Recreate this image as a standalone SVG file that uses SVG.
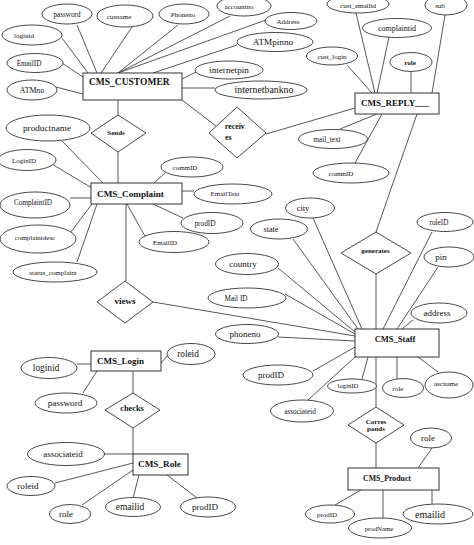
<svg xmlns="http://www.w3.org/2000/svg" width="474" height="545" viewBox="0 0 474 545">
<style>
text{font-family:"Liberation Serif","Times New Roman",serif;fill:#111;text-anchor:middle}
.e{fill:#fff;stroke:#333;stroke-width:0.9}
.r{fill:#fff;stroke:#333;stroke-width:1}
.d{fill:#fff;stroke:#333;stroke-width:0.9}
.b{font-weight:bold}
.t{text-anchor:start}
#conn line{stroke:#444;stroke-width:0.9}
</style>
<rect width="474" height="545" fill="#fff"/>
<g id="conn">
<line x1="77" y1="25" x2="97" y2="73"/>
<line x1="132" y1="27" x2="101" y2="73"/>
<line x1="178" y1="25" x2="118" y2="73"/>
<line x1="230" y1="16" x2="118" y2="73"/>
<line x1="266" y1="20" x2="118" y2="73"/>
<line x1="237" y1="45" x2="153" y2="73"/>
<line x1="196" y1="72" x2="182" y2="79"/>
<line x1="182" y1="88" x2="215" y2="88"/>
<line x1="62" y1="38" x2="88" y2="73"/>
<line x1="62" y1="63" x2="83" y2="77"/>
<line x1="56" y1="87" x2="83" y2="94"/>
<line x1="118" y1="100" x2="118" y2="115"/>
<line x1="182" y1="100" x2="216" y2="126"/>
<line x1="118" y1="152" x2="118" y2="183"/>
<line x1="62" y1="141" x2="103" y2="183"/>
<line x1="50" y1="163" x2="92" y2="188"/>
<line x1="70" y1="198" x2="91" y2="198"/>
<line x1="70" y1="233" x2="92" y2="204"/>
<line x1="77" y1="262" x2="97" y2="204"/>
<line x1="165" y1="173" x2="154" y2="183"/>
<line x1="182" y1="191" x2="194" y2="191"/>
<line x1="183" y1="218" x2="153" y2="204"/>
<line x1="146" y1="238" x2="127" y2="204"/>
<line x1="126" y1="204" x2="126" y2="281"/>
<line x1="153" y1="302" x2="355" y2="336"/>
<line x1="266" y1="134" x2="355" y2="108"/>
<line x1="356" y1="13" x2="375" y2="93"/>
<line x1="389" y1="37" x2="377" y2="93"/>
<line x1="347" y1="65" x2="372" y2="93"/>
<line x1="411" y1="72" x2="411" y2="93"/>
<line x1="445" y1="15" x2="432" y2="93"/>
<line x1="340" y1="129" x2="377" y2="114"/>
<line x1="355" y1="163" x2="382" y2="114"/>
<line x1="417" y1="114" x2="376" y2="232"/>
<line x1="376" y1="274" x2="376" y2="329"/>
<line x1="313" y1="218" x2="362" y2="329"/>
<line x1="293" y1="239" x2="358" y2="329"/>
<line x1="278" y1="268" x2="355" y2="332"/>
<line x1="285" y1="294" x2="355" y2="334"/>
<line x1="278" y1="337" x2="355" y2="341"/>
<line x1="313" y1="371" x2="355" y2="347"/>
<line x1="308" y1="400" x2="355" y2="357"/>
<line x1="362" y1="379" x2="368" y2="357"/>
<line x1="397" y1="357" x2="397" y2="379"/>
<line x1="418" y1="357" x2="438" y2="372"/>
<line x1="432" y1="232" x2="383" y2="329"/>
<line x1="438" y1="267" x2="397" y2="329"/>
<line x1="413" y1="320" x2="402" y2="329"/>
<line x1="376" y1="357" x2="376" y2="407"/>
<line x1="376" y1="443" x2="376" y2="468"/>
<line x1="432" y1="448" x2="418" y2="468"/>
<line x1="335" y1="505" x2="361" y2="490"/>
<line x1="383" y1="490" x2="383" y2="518"/>
<line x1="432" y1="490" x2="432" y2="504"/>
<line x1="77" y1="364" x2="91" y2="364"/>
<line x1="167" y1="356" x2="161" y2="363"/>
<line x1="83" y1="393" x2="97" y2="371"/>
<line x1="133" y1="371" x2="133" y2="393"/>
<line x1="133" y1="428" x2="133" y2="454"/>
<line x1="104" y1="454" x2="133" y2="454"/>
<line x1="55" y1="483" x2="133" y2="463"/>
<line x1="82" y1="505" x2="133" y2="470"/>
<line x1="133" y1="498" x2="139" y2="475"/>
<line x1="197" y1="498" x2="167" y2="475"/>
</g>

<g id="cms_customer"><rect class="r" x="83" y="73" width="99" height="27"/><text class="b t" x="89" y="85" font-size="9.5">CMS_CUSTOMER</text></g>
<g id="c_password"><ellipse class="e" cx="67" cy="14" rx="25" ry="10"/><text x="67" y="16.5" font-size="7.2">password</text></g>
<g id="c_cusname"><ellipse class="e" cx="125" cy="16" rx="28" ry="11"/><text x="119" y="18.5" font-size="7">cusname</text></g>
<g id="c_phoneno"><ellipse class="e" cx="184" cy="14" rx="25" ry="10"/><text x="183" y="16.5" font-size="7">Phoneno</text></g>
<g id="c_accountno"><ellipse class="e" cx="244" cy="6" rx="27" ry="10"/><text x="239" y="8.5" font-size="7">accountno</text></g>
<g id="c_address"><ellipse class="e" cx="291" cy="21" rx="26" ry="8.5"/><text x="288" y="23.5" font-size="7">Address</text></g>
<g id="c_atmpinno"><ellipse class="e" cx="275" cy="42" rx="38" ry="9.5"/><text x="273" y="45" font-size="9.2">ATMpinno</text></g>
<g id="c_internetpin"><ellipse class="e" cx="229" cy="70" rx="34" ry="9"/><text x="229" y="73" font-size="9.2">internetpin</text></g>
<g id="c_internetbankno"><ellipse class="e" cx="261" cy="90" rx="46" ry="9"/><text x="264" y="93" font-size="9.8">internetbankno</text></g>
<g id="c_loginid"><ellipse class="e" cx="32" cy="35" rx="30" ry="10"/><text x="24" y="37.5" font-size="7">loginid</text></g>
<g id="c_emailid"><ellipse class="e" cx="35" cy="63" rx="28" ry="9.5"/><text x="29" y="65.5" font-size="7.2">EmailID</text></g>
<g id="c_atmno"><ellipse class="e" cx="32" cy="90" rx="25" ry="10"/><text x="32" y="92.5" font-size="7.8">ATMno</text></g>

<g id="sends"><polygon class="d" points="118,115 146,133 118,152 91,133"/><text class="b" x="116" y="135" font-size="7">Sends</text></g>
<g id="receives"><polygon class="d" points="237,107 266,133 237,158 209,133"/><text class="b t" x="225" y="129" font-size="7.8">receiv</text><text class="b t" x="225" y="140" font-size="7.8">es</text></g>

<g id="cms_complaint"><rect class="r" x="91" y="183" width="91" height="21"/><text class="b t" x="97" y="196.5" font-size="9.2">CMS_Complaint</text></g>
<g id="p_productname"><ellipse class="e" cx="48" cy="128" rx="42" ry="13"/><text x="47" y="131" font-size="9.2">productname</text></g>
<g id="p_loginid"><ellipse class="e" cx="27" cy="160" rx="29" ry="10.5"/><text x="24" y="162.5" font-size="7">LoginID</text></g>
<g id="p_complaintid"><ellipse class="e" cx="35" cy="205" rx="35" ry="13"/><text x="33" y="205" font-size="7.2">ComplaintID</text></g>
<g id="p_complaintdesc"><ellipse class="e" cx="38" cy="239" rx="38" ry="14"/><text x="35" y="239.5" font-size="7">complaintdesc</text></g>
<g id="p_status"><ellipse class="e" cx="55" cy="272" rx="42" ry="10"/><text x="53" y="274.5" font-size="7">status_complaint</text></g>
<g id="p_commid"><ellipse class="e" cx="192" cy="167" rx="31" ry="10"/><text x="185" y="169.5" font-size="7">commID</text></g>
<g id="p_emailtext"><ellipse class="e" cx="233" cy="194" rx="39" ry="10"/><text x="225" y="196" font-size="7">EmailText</text></g>
<g id="p_prodid"><ellipse class="e" cx="212" cy="223" rx="31" ry="10.5"/><text x="205" y="225.5" font-size="7.3">prodID</text></g>
<g id="p_emailid"><ellipse class="e" cx="174" cy="242" rx="35" ry="10.5"/><text x="165" y="244.5" font-size="7">EmailID</text></g>

<g id="views"><polygon class="d" points="125,281 153,302 125,323 97,302"/><text class="b" x="125" y="303.5" font-size="9">views</text></g>

<g id="cms_reply"><rect class="r" x="355" y="93" width="84" height="21"/><text class="b t" x="361" y="106" font-size="9">CMS_REPLY___</text></g>
<g id="r_cust_emailid"><ellipse class="e" cx="358" cy="4" rx="31" ry="9"/><text x="358" y="7.5" font-size="7">cust_emailid</text></g>
<g id="r_complaintid"><ellipse class="e" cx="397" cy="28" rx="34.5" ry="9.5"/><text x="397" y="30.5" font-size="8">complaintid</text></g>
<g id="r_sub"><ellipse class="e" cx="446" cy="5" rx="21" ry="10"/><text x="440" y="8" font-size="7">sub</text></g>
<g id="r_cust_login"><ellipse class="e" cx="332" cy="56" rx="25.5" ry="9"/><text x="332" y="58.5" font-size="7">cust_login</text></g>
<g id="r_role"><ellipse class="e" cx="411" cy="62" rx="21" ry="9.5"/><text class="b" x="410" y="64.5" font-size="7">role</text></g>
<g id="r_mail_text"><ellipse class="e" cx="333" cy="139" rx="34.5" ry="9.5"/><text x="327" y="141.5" font-size="7.2">mail_text</text></g>
<g id="r_commid"><ellipse class="e" cx="351" cy="173" rx="38" ry="10"/><text x="341" y="175.5" font-size="7">commID</text></g>

<g id="generates"><polygon class="d" points="376,232 411,253 376,274 341,253"/><text class="b" x="375.5" y="252.5" font-size="7">generates</text></g>

<g id="cms_staff"><rect class="r" x="355" y="329" width="84" height="28"/><text class="b" x="395" y="342" font-size="8.5">CMS_Staff</text></g>
<g id="s_city"><ellipse class="e" cx="310" cy="208" rx="24.5" ry="10"/><text x="303" y="210.5" font-size="8.5">city</text></g>
<g id="s_state"><ellipse class="e" cx="279" cy="229" rx="28.5" ry="10"/><text x="271" y="231.5" font-size="8.2">state</text></g>
<g id="s_country"><ellipse class="e" cx="247" cy="264" rx="31.5" ry="10.5"/><text x="243" y="267" font-size="9">country</text></g>
<g id="s_mailid"><ellipse class="e" cx="247" cy="298" rx="39" ry="10"/><text x="236" y="300.5" font-size="7.2">Mail ID</text></g>
<g id="s_phoneno"><ellipse class="e" cx="247" cy="334" rx="31.5" ry="9.5"/><text x="245" y="337" font-size="9">phoneno</text></g>
<g id="s_prodid"><ellipse class="e" cx="278" cy="375" rx="35" ry="10"/><text x="271" y="378" font-size="9">prodID</text></g>
<g id="s_associateid"><ellipse class="e" cx="302" cy="411" rx="31.5" ry="11"/><text x="300" y="413.5" font-size="7.2">associateid</text></g>
<g id="s_loginid"><ellipse class="e" cx="352" cy="386" rx="24.5" ry="7"/><text x="348" y="388.3" font-size="6.7">loginID</text></g>
<g id="s_role"><ellipse class="e" cx="403" cy="388" rx="20.5" ry="9.5"/><text x="398" y="390.5" font-size="7">role</text></g>
<g id="s_ascname"><ellipse class="e" cx="449" cy="385" rx="24" ry="13"/><text x="446" y="385.5" font-size="7">ascname</text></g>
<g id="s_roleid"><ellipse class="e" cx="445" cy="222" rx="28" ry="9.5"/><text x="439" y="224.5" font-size="7.2">roleID</text></g>
<g id="s_pin"><ellipse class="e" cx="449" cy="257" rx="25" ry="10"/><text x="441" y="260" font-size="9">pin</text></g>
<g id="s_address"><ellipse class="e" cx="439" cy="313" rx="28" ry="10"/><text x="437" y="316" font-size="9">address</text></g>

<g id="corresponds"><polygon class="d" points="376,407 404,425 376,443 348,425"/><text class="b" x="376" y="423.5" font-size="7">Corres</text><text class="b" x="376" y="431" font-size="7">ponds</text></g>

<g id="cms_product"><rect class="r" x="348" y="468" width="91" height="22"/><text class="b t" x="363" y="480.5" font-size="7.8">CMS_Product</text></g>
<g id="d_role"><ellipse class="e" cx="431" cy="438" rx="20.5" ry="10"/><text x="428" y="441" font-size="9">role</text></g>
<g id="d_prodid"><ellipse class="e" cx="330" cy="514" rx="24.5" ry="9"/><text x="327" y="516.5" font-size="7">prodID</text></g>
<g id="d_prodname"><ellipse class="e" cx="380" cy="528" rx="31.5" ry="10"/><text x="379" y="530.5" font-size="6.8">prodName</text></g>
<g id="d_emailid"><ellipse class="e" cx="438" cy="514" rx="35" ry="10"/><text x="430" y="517.5" font-size="10">emailid</text></g>

<g id="cms_login"><rect class="r" x="91" y="351" width="70" height="20"/><text class="b t" x="97" y="363.5" font-size="9">CMS_Login</text></g>
<g id="l_loginid"><ellipse class="e" cx="49" cy="368" rx="28" ry="10.5"/><text x="46" y="371" font-size="9.3">loginid</text></g>
<g id="l_roleid"><ellipse class="e" cx="191" cy="354" rx="24" ry="10.5"/><text x="188" y="357" font-size="9.3">roleid</text></g>
<g id="l_password"><ellipse class="e" cx="66" cy="403" rx="31" ry="10"/><text x="65" y="406" font-size="9.2">password</text></g>

<g id="checks"><polygon class="d" points="133,393 160,410 133,428 105,410"/><text class="b" x="132" y="411" font-size="8.3">checks</text></g>

<g id="cms_role"><rect class="r" x="133" y="454" width="55" height="21"/><text class="b t" x="138" y="467" font-size="9.2">CMS_Role</text></g>
<g id="o_associateid"><ellipse class="e" cx="66" cy="454" rx="38.5" ry="11.5"/><text x="63" y="457" font-size="9">associateid</text></g>
<g id="o_roleid"><ellipse class="e" cx="31" cy="486" rx="24" ry="9.5"/><text x="28" y="489" font-size="9.2">roleid</text></g>
<g id="o_role"><ellipse class="e" cx="70" cy="514" rx="20.5" ry="9.5"/><text x="66" y="517" font-size="9">role</text></g>
<g id="o_emailid"><ellipse class="e" cx="133" cy="507" rx="27.5" ry="9.5"/><text x="130" y="510" font-size="9.5">emailid</text></g>
<g id="o_prodid"><ellipse class="e" cx="208" cy="507" rx="27.5" ry="10"/><text x="205" y="510" font-size="9">prodID</text></g>
</svg>
